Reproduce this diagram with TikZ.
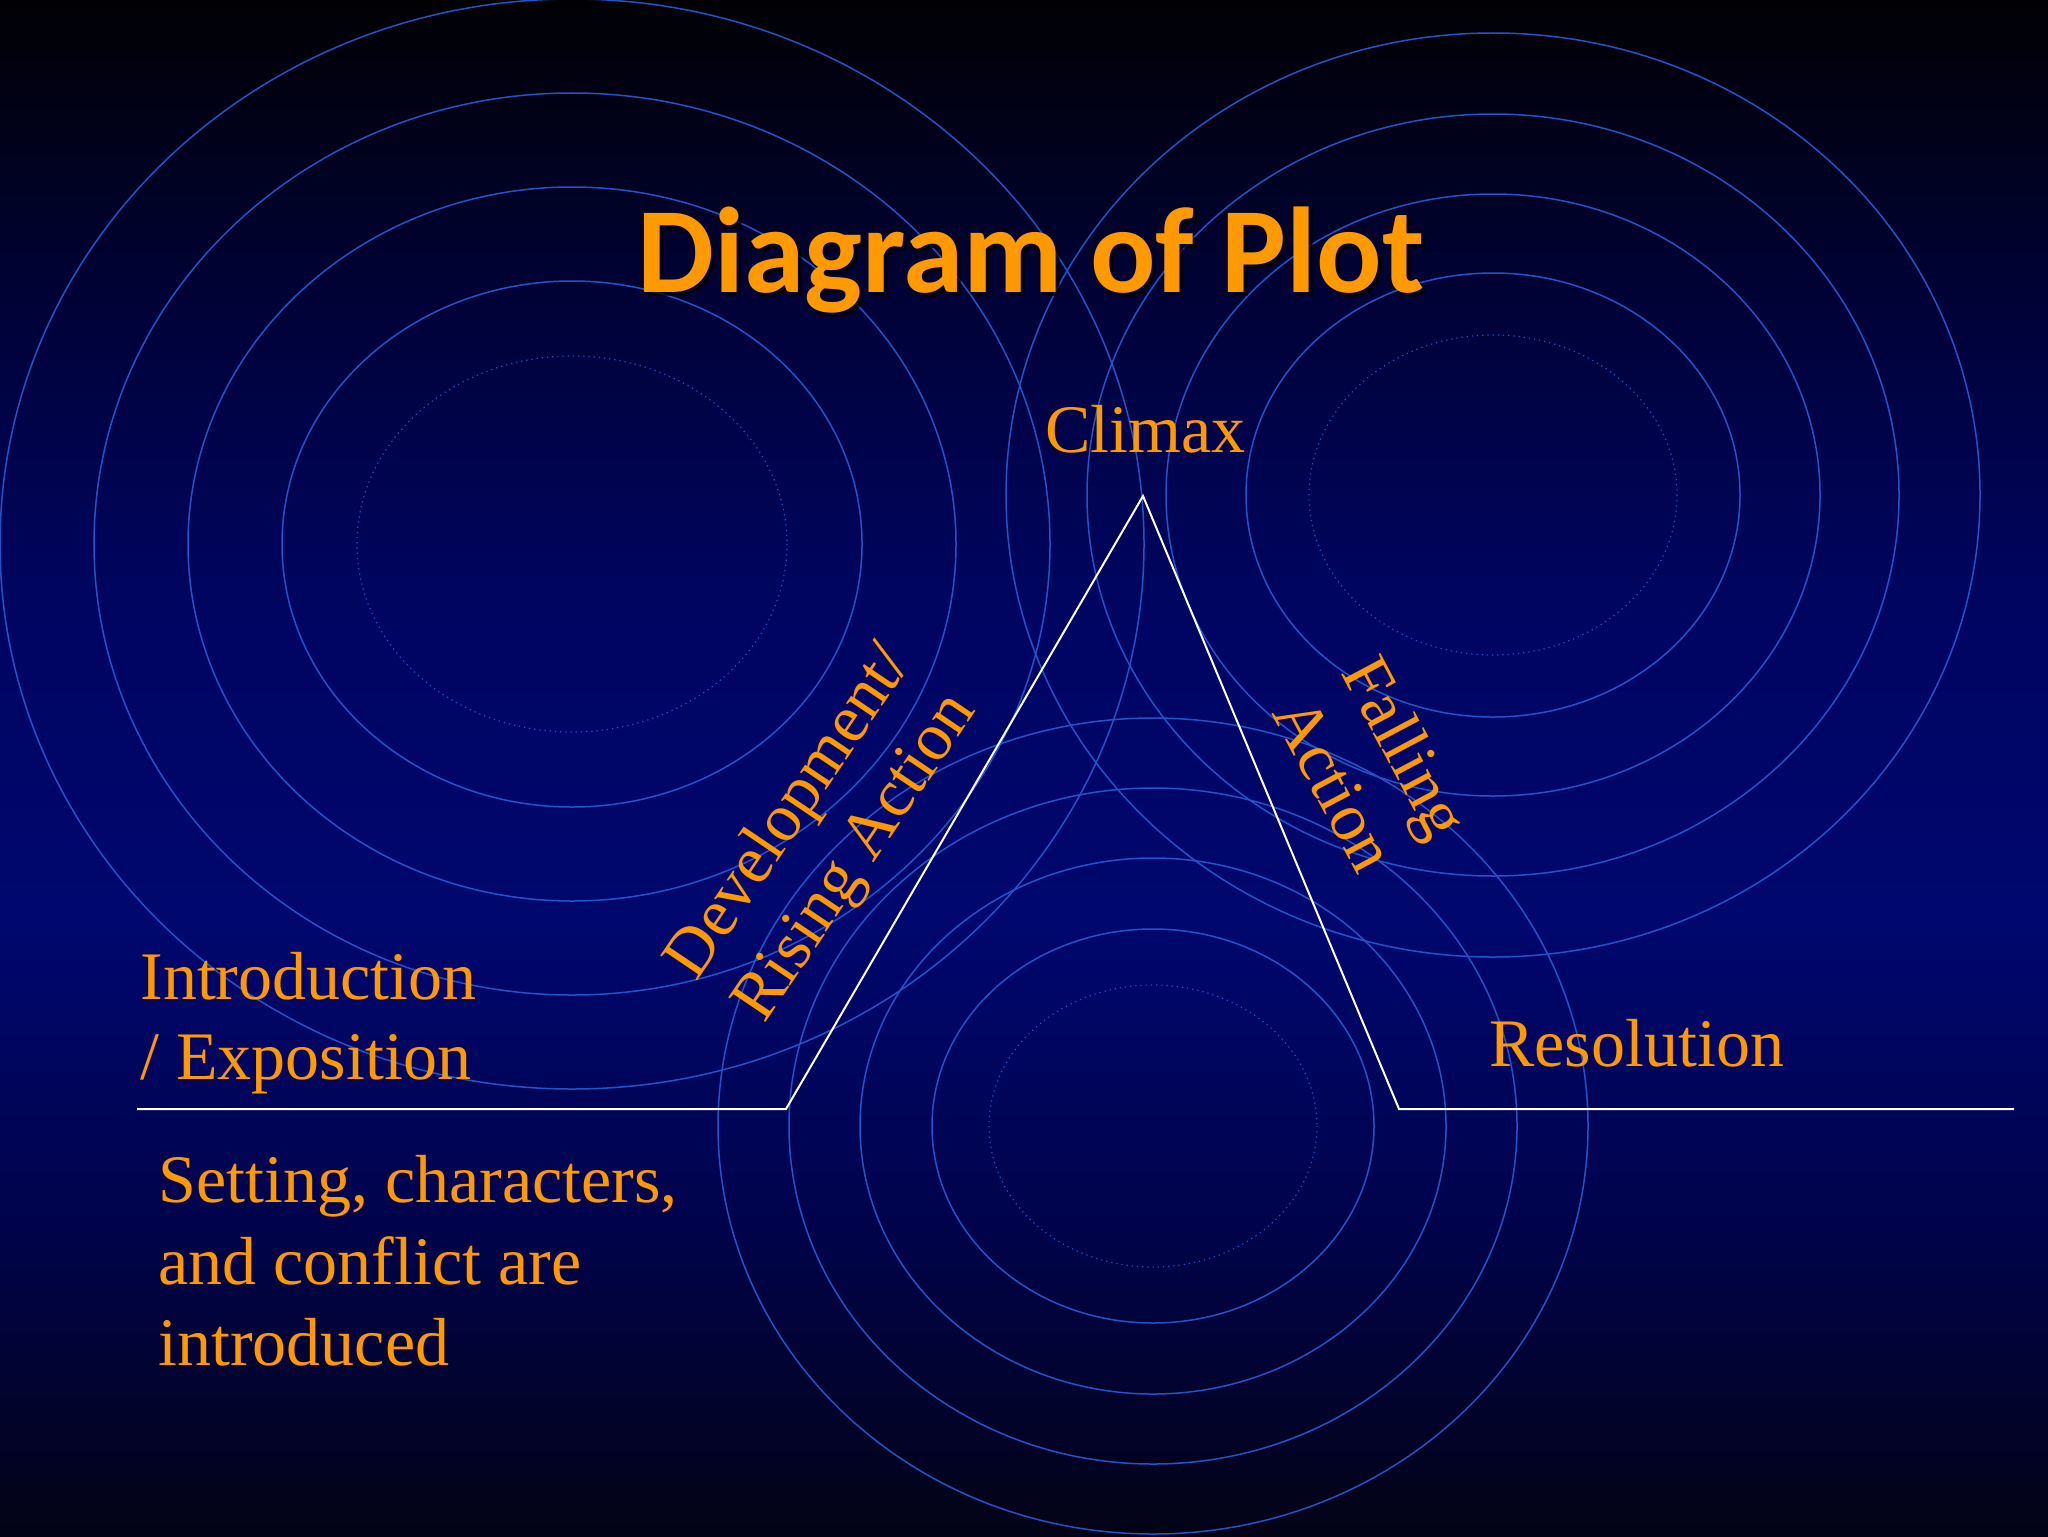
\documentclass[tikz,border=0pt]{standalone}
\usepackage{fontspec}
\setmainfont{Liberation Serif}
\newfontfamily\titlefont{Carlito}
\definecolor{bg0}{HTML}{030316}
\definecolor{bg1}{HTML}{00034A}
\definecolor{bg2}{HTML}{00076E}
\definecolor{bg3}{HTML}{000562}
\definecolor{bg4}{HTML}{000238}
\definecolor{bg5}{HTML}{010104}
\definecolor{ring}{HTML}{2254C8}
\definecolor{plotorange}{HTML}{FF9900}
\pgfdeclareverticalshading{bgshade}{100bp}{color(0bp)=(bg0); color(25bp)=(bg0); color(35bp)=(bg1); color(45bp)=(bg2); color(55bp)=(bg3); color(65bp)=(bg4); color(75bp)=(bg5); color(100bp)=(bg5)}
\tikzset{
  ringline/.style={draw=ring, line width=0.75pt},
  ringdot/.style={draw=ring, line width=0.6pt, dotted},
  plotline/.style={draw=white, line width=1pt, line join=miter},
  lbl/.style={text=plotorange, font=\fontsize{34}{40}\selectfont, inner sep=0pt},
  titlestyle/.style={font=\titlefont\bfseries\fontsize{61}{70}\selectfont, inner sep=0pt}
}
\begin{document}
\begin{tikzpicture}[x=0.5pt, y=-0.5pt]
\useasboundingbox (0,0) rectangle (2048,1536);
\shade[shading=bgshade] (0,0) rectangle (2048,1536);
% left ring set
\draw[ringdot] (572,544) ellipse [x radius=215, y radius=188];
\foreach \a/\b in {290/263, 384/357, 478/451, 572/545}
  \draw[ringline] (572,544) ellipse [x radius=\a, y radius=\b];
% right ring set
\draw[ringdot] (1493,495) ellipse [x radius=184, y radius=160];
\foreach \a/\b in {247/222, 327/301, 406/381, 487/462}
  \draw[ringline] (1493,495) ellipse [x radius=\a, y radius=\b];
% bottom ring set
\draw[ringdot] (1153,1126) ellipse [x radius=164, y radius=141];
\foreach \a/\b in {221/197, 293/268, 364/338, 435/408}
  \draw[ringline] (1153,1126) ellipse [x radius=\a, y radius=\b];
% plot line
\coordinate (start) at (137,1109);
\coordinate (riseA) at (786,1109);
\coordinate (peak) at (1143,496);
\coordinate (fallB) at (1399,1109);
\coordinate (finish) at (2014,1109);
\draw[plotline] (start) -- (riseA) -- (peak) -- (fallB) -- (finish);
% title
\node[titlestyle, text=black, opacity=0.7, anchor=base] (titleshadow) at (1035,296) {Diagram of Plot};
\node[titlestyle, text=plotorange, anchor=base] (title) at (1031,292) {Diagram of Plot};
% labels
\node[lbl, anchor=base west] (climax) at (1045,452) {Climax};
\node[lbl, anchor=base west] (intro1) at (140,999) {Introduction};
\node[lbl, anchor=base west] (intro2) at (140,1079) {/ Exposition};
\node[lbl, anchor=base west] (resol) at (1489,1066) {Resolution};
\node[lbl, anchor=base west] (set1) at (158,1202) {Setting, characters,};
\node[lbl, anchor=base west] (set2) at (158,1284) {and conflict are};
\node[lbl, anchor=base west] (set3) at (158,1365) {introduced};
\node[lbl, align=center, rotate=56] (rising) at (824,836) {Development/\\Rising Action};
\node[lbl, align=center, rotate=-62] (falling) at (1371,765) {Falling\\Action};
\end{tikzpicture}
\end{document}
